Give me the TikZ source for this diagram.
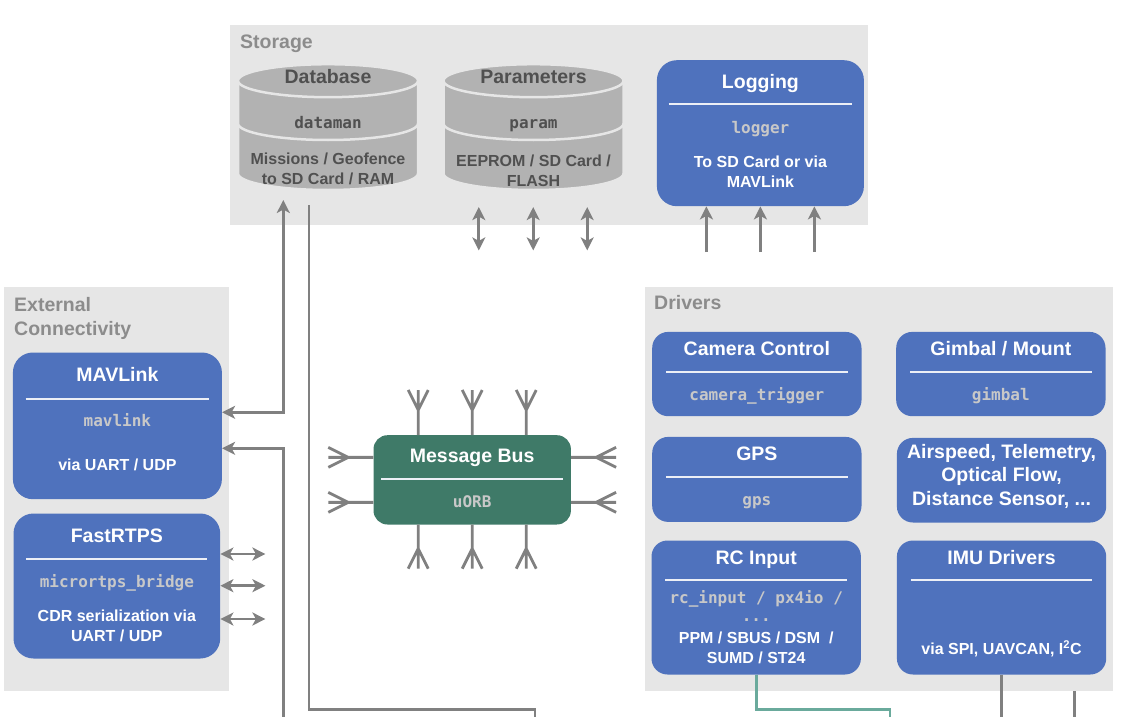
\documentclass[tikz,border=0pt]{standalone}
\usepackage{fontspec}
\setmainfont{Liberation Sans}
\setmonofont{DejaVu Sans Mono}
\usetikzlibrary{calc, positioning}
\usetikzlibrary{arrows.meta}

\definecolor{grpbg}{RGB}{230,230,230}
\definecolor{grptext}{RGB}{140,140,140}
\definecolor{pxblue}{RGB}{79,114,189}
\definecolor{busgreen}{RGB}{63,122,104}
\definecolor{cmdgray}{RGB}{200,200,200}
\definecolor{cylgray}{RGB}{178,178,178}
\definecolor{cyldark}{RGB}{80,80,80}
\definecolor{linkgray}{RGB}{128,128,128}
\definecolor{rcteal}{RGB}{106,170,156}
\definecolor{rulewhite}{RGB}{236,239,246}

\newcommand{\titlefont}{\fontsize{19.5}{23.4}\selectfont\bfseries}
\newcommand{\bodyfont}{\fontsize{16}{20}\selectfont\bfseries}
\newcommand{\cmdfont}{\fontsize{16}{18.4}\selectfont\ttfamily\bfseries}

\tikzset{
  grpbox/.style={fill=grpbg, anchor=north west, inner sep=0pt},
  grptitle/.style={text=grptext, font=\titlefont, anchor=base west, inner sep=0pt, align=left},
  modbox/.style={fill=pxblue, rounded corners=16pt, anchor=north west, inner sep=0pt},
  modtitle/.style={text=white, font=\titlefont, anchor=base, inner sep=0pt, align=center},
  modcmd/.style={text=cmdgray, font=\cmdfont, anchor=base, inner sep=0pt, align=center},
  modtext/.style={text=white, font=\bodyfont, anchor=base, inner sep=0pt, align=center},
  modrule/.style={draw=rulewhite, line width=2pt},
  link/.style={draw=linkgray, line width=2.8pt},
  cyl/.style={fill=cylgray, draw=grpbg, line width=2.5pt},
  cyltitle/.style={text=cyldark, font=\titlefont, anchor=base, inner sep=0pt},
  cylcmd/.style={text=cyldark, font=\cmdfont, anchor=base, inner sep=0pt},
  cyllabel/.style={text=cyldark, font=\bodyfont, anchor=base, inner sep=0pt, align=center},
  >={Stealth[length=13pt, width=13pt, inset=3.5pt]}
}

\begin{document}
\begin{tikzpicture}[x=1pt, y=-1pt]
\useasboundingbox (0,0) rectangle (1121,717);

% groups (multi-line texts sit on the baseline of their last line)
\node[grpbox, minimum width=638, minimum height=200] (storage) at (230,25) {};
\node[grpbox, minimum width=225, minimum height=404] (extconn) at (4,287) {};
\node[grpbox, minimum width=468, minimum height=404.5] (drivers) at (645,286.5) {};
\node[grptitle] at ($(storage.north west)+(10,23.3)$) {Storage};
\node[grptitle] at ($(extconn.north west)+(10,48)$) {External\\Connectivity};
\node[grptitle] at ($(drivers.north west)+(9,22.5)$) {Drivers};

% storage: cylinders
\foreach \cx in {328,533.5} {
  \draw[cyl] (\cx-90,123.5) -- (\cx-90,173.5)
    arc[start angle=180, end angle=0, x radius=90, y radius=16.5] -- (\cx+90,123.5) -- cycle;
  \draw[cyl] (\cx-90,80.7) -- (\cx-90,123.5)
    arc[start angle=180, end angle=0, x radius=90, y radius=16.5] -- (\cx+90,80.7) -- cycle;
  \draw[cyl] (\cx,80.7) ellipse[x radius=90, y radius=16.5];
}
\node[cyltitle] (dbtitle) at (328,83) {Database};
\node[cylcmd] (dbcmd) at (328,128) {dataman};
\node[cyllabel] (dbtext) at (328,184.3) {Missions / Geofence\\to SD Card / RAM};
\node[cyltitle] (partitle) at (533.5,83) {Parameters};
\node[cylcmd] (parcmd) at (533.5,128) {param};
\node[cyllabel] (partext) at (533.5,186) {EEPROM / SD Card /\\FLASH};

% logging
\node[modbox, rounded corners=20pt, minimum width=207, minimum height=146] (logging) at (656.7,60) {};
\node[modtitle] at ($(logging.north)+(0,28.3)$) {Logging};
\draw[modrule] ($(logging.north west)+(12,44.3)$) -- ($(logging.north east)+(-12,44.3)$);
\node[modcmd] at ($(logging.north)+(0,73)$) {logger};
\node[modtext] at ($(logging.north)+(0,127.3)$) {To SD Card or via\\MAVLink};

% external connectivity
\node[modbox, rounded corners=20pt, minimum width=209, minimum height=146.7] (mavlink) at (12.7,352.3) {};
\node[modtitle] at ($(mavlink.north)+(0,29.4)$) {MAVLink};
\draw[modrule] ($(mavlink.north west)+(13,46.7)$) -- ($(mavlink.north east)+(-13,46.7)$);
\node[modcmd] at ($(mavlink.north)+(0,74.4)$) {mavlink};
\node[modtext] at ($(mavlink.north)+(0,118.4)$) {via UART / UDP};

\node[modbox, rounded corners=20pt, minimum width=206.7, minimum height=145] (fastrtps) at (13.3,513.3) {};
\node[modtitle] at ($(fastrtps.north)+(0,29)$) {FastRTPS};
\draw[modrule] ($(fastrtps.north west)+(13,45.7)$) -- ($(fastrtps.north east)+(-13,45.7)$);
\node[modcmd] at ($(fastrtps.north)+(0,74)$) {micrortps\_bridge};
\node[modtext] at ($(fastrtps.north)+(0,127.7)$) {CDR serialization via\\UART / UDP};

% message bus
\node[modbox, fill=busgreen, rounded corners=14pt, minimum width=197.4, minimum height=89.3] (bus) at (373.3,435) {};
\node[modtitle] at ($(bus.north)+(0,27.7)$) {Message Bus};
\draw[modrule] ($(bus.north west)+(8,44.3)$) -- ($(bus.north east)+(-8,44.3)$);
\node[modcmd] at ($(bus.north)+(0,72.7)$) {uORB};

% drivers
\node[modbox, minimum width=209.3, minimum height=84.3] (camctl) at (652,331.7) {};
\node[modtitle] at ($(camctl.north)+(0,23.3)$) {Camera Control};
\draw[modrule] ($(camctl.north west)+(14,40)$) -- ($(camctl.north east)+(-14,40)$);
\node[modcmd] at ($(camctl.north)+(0,68.3)$) {camera\_trigger};

\node[modbox, minimum width=209.3, minimum height=84.3] (gimbal) at (896,331.7) {};
\node[modtitle] at ($(gimbal.north)+(0,23.3)$) {Gimbal / Mount};
\draw[modrule] ($(gimbal.north west)+(14,40)$) -- ($(gimbal.north east)+(-14,40)$);
\node[modcmd] at ($(gimbal.north)+(0,68.3)$) {gimbal};

\node[modbox, minimum width=209.3, minimum height=85] (gps) at (652,436.7) {};
\node[modtitle] at ($(gps.north)+(0,23.3)$) {GPS};
\draw[modrule] ($(gps.north west)+(14,40)$) -- ($(gps.north east)+(-14,40)$);
\node[modcmd] at ($(gps.north)+(0,68.3)$) {gps};

\node[modbox, minimum width=209.3, minimum height=84.6] (sensors) at (896.7,437.7) {};
\node[modtitle] at ($(sensors.north)+(0,67.4)$) {Airspeed, Telemetry,\\Optical Flow,\\Distance Sensor, ...};

\node[modbox, minimum width=209.4, minimum height=134] (rcinput) at (651.3,540.3) {};
\node[modtitle] at ($(rcinput.north)+(0,24)$) {RC Input};
\draw[modrule] ($(rcinput.north west)+(14,40)$) -- ($(rcinput.north east)+(-14,40)$);
\node[modcmd] at ($(rcinput.north)+(0,81.4)$) {rc\_input / px4io /\\...};
\node[modtext] at ($(rcinput.north)+(0,123)$) {PPM / SBUS / DSM\ \ /\\SUMD / ST24};

\node[modbox, minimum width=209.3, minimum height=134] (imu) at (896.7,540.3) {};
\node[modtitle] at ($(imu.north)+(0,24)$) {IMU Drivers};
\draw[modrule] ($(imu.north west)+(14,40)$) -- ($(imu.north east)+(-14,40)$);
\node[modtext] at ($(imu.north)+(0,114)$) {via SPI, UAVCAN, I\textsuperscript{2}C};

% free ends
\coordinate (dbport) at (283.3,200);
\coordinate (dbout) at (309,205);
\coordinate (exitA) at (283.3,717);
\coordinate (exitB) at (535,717);
\coordinate (exitC) at (890,717);

% links
\draw[link, <->] ($(mavlink.north east)+(0,60)$) -| (dbport);
\draw[link, <-] ($(mavlink.north east)+(0,96)$) -| (exitA);
\draw[link] (dbout) |- ($(exitB)+(0,-7.7)$) -- (exitB);
\draw[draw=rcteal, line width=2.8pt] (rcinput.south) |- ($(exitC)+(0,-7.7)$) -- (exitC);
\draw[link] (imu.south) -- (imu.south |- exitC);
\draw[link] ($(drivers.south west)+(429.3,0)$) -- ++(0,26);

\foreach \dx in {-70.4,-16,38}
  \draw[link, <->] ($(storage.south)+(\dx,-18.3)$) -- ++(0,43.3);
\foreach \dx in {-54,0,54}
  \draw[link, ->] ($(logging.south)+(\dx,45.7)$) -- ++(0,-45.7);
\foreach \dy in {40.7,72.4,105.7}
  \draw[link, <->] ($(fastrtps.north east)+(0,\dy)$) -- ++(45,0);

% bus ports
\foreach \dx in {-54,0,54} {
  \draw[link] ($(bus.north)+(\dx,0)$) -- ++(0,-45) ++(-10,0) -- ++(10,20) -- ++(10,-20);
  \draw[link] ($(bus.south)+(\dx,0)$) -- ++(0,44) ++(-10,0) -- ++(10,-20) -- ++(10,20);
}
\foreach \dy in {-22.5,22.5} {
  \draw[link] ($(bus.west)+(0,\dy)$) -- ++(-45,0) ++(0,-10) -- ++(20,10) -- ++(-20,10);
  \draw[link] ($(bus.east)+(0,\dy)$) -- ++(45,0) ++(0,-10) -- ++(-20,10) -- ++(20,10);
}
\end{tikzpicture}
\end{document}
